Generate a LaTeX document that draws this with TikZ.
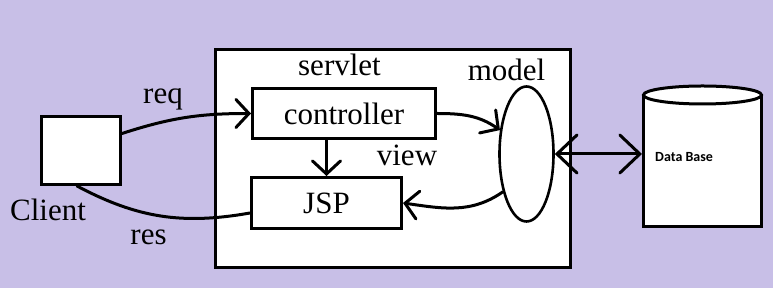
\documentclass[tikz,border=0pt]{standalone}
\usepackage{fontspec}
\setmainfont{Liberation Serif}
\newfontfamily\dbfont{Carlito}
\usetikzlibrary{arrows.meta,shapes.geometric}
\definecolor{bgpurple}{RGB}{200,191,231}
\begin{document}
\begin{tikzpicture}[x=1pt,y=1pt,
  every node/.style={font=\fontsize{31}{36}\selectfont, inner sep=0pt},
  box/.style={draw, line width=3pt, fill=white, rectangle},
  lbl/.style={anchor=base},
  arr/.style={line width=3pt, line cap=round, -{Straight Barb[length=13pt,width=28pt,line cap=round]}}]
\fill[bgpurple] (0,0) rectangle (773,288);

\node[box, minimum width=355pt, minimum height=218pt] (servlet) at (393,129.5) {};
\node[box, minimum width=79pt, minimum height=68pt] (client) at (81,137.5) {};
\node[box, minimum width=183pt, minimum height=50pt] (controller) at (344,174.5) {controller};
\node[box, minimum width=150pt, minimum height=51pt] (jsp) at (326.5,85) {JSP};
\node[draw, ellipse, line width=2.6pt, fill=white, minimum width=54pt, minimum height=135pt] (model) at (526.5,134) {};

% data base
\node[box, minimum width=118pt, minimum height=131pt] (db) at (702.5,127) {};
\node[draw, ellipse, line width=3pt, fill=white, minimum width=118pt, minimum height=18pt] (dbtop) at (702.5,193) {};
\node[anchor=base west, font=\dbfont\bfseries\fontsize{14}{16}\selectfont] (dbtext) at (655,126) {Data Base};

\node[lbl] (clientlbl) at (48,67) {Client};
\node[lbl] (req) at (163,184) {req};
\node[lbl] (res) at (148.5,43) {res};
\node[lbl] (servletlbl) at (339.5,212) {servlet};
\node[lbl] (modellbl) at (506.5,207) {model};
\node[lbl] (viewlbl) at (407,122) {view};

\draw[arr] ([yshift=17pt]client.east) to[out=18,in=180] (controller.west);
\draw[line width=3pt, line cap=round] ([xshift=-4pt]client.south) to[out=-28,in=190] ([yshift=-10pt]jsp.west);
\draw[arr] (controller.south -| jsp.north) -- (jsp.north);
\draw[arr] (controller.east) to[out=0,in=145] (model.138);
\draw[arr] (model.238) to[out=215,in=352] (jsp.east);
\draw[line width=3pt, line cap=round, {Straight Barb[length=20pt,width=38pt,line cap=round]}-{Straight Barb[length=20pt,width=38pt,line cap=round]}] (model.east) -- (model.east -| db.west);
\end{tikzpicture}
\end{document}
